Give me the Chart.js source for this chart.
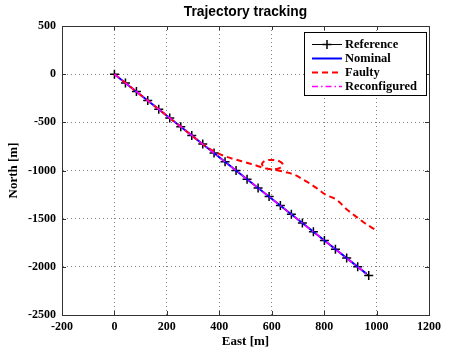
<!DOCTYPE html>
<html>
<head>
<meta charset="utf-8">
<script src="https://cdn.jsdelivr.net/npm/chart.js@4.4.0/dist/chart.umd.min.js"></script>
<style>
html,body{margin:0;padding:0;background:#fff;}
#wrap{width:474px;height:355px;}
</style>
</head>
<body>
<div id="wrap"><canvas id="c" width="474" height="355"></canvas></div>
<script>
const TITLE = 'Trajectory tracking';
const X_TITLE = 'East [m]';
const Y_TITLE = 'North [m]';
const seriesNames = ['Reference', 'Nominal', 'Faulty', 'Reconfigured'];

const xTickValues = [-200, 0, 200, 400, 600, 800, 1000, 1200];
const yTickValues = [500, 0, -500, -1000, -1500, -2000, -2500];

const refEast  = [0, 42, 84, 127, 169, 211, 253, 295, 337, 380, 422, 464, 506, 548, 590, 633, 675, 717, 759, 801, 843, 886, 928, 970];
const refNorth = [0, -91, -181, -274, -364, -455, -545, -636, -726, -819, -909, -1000, -1090, -1181, -1271, -1364, -1455, -1545, -1636, -1726, -1817, -1909, -2000, -2090];

const nomEast  = [0, 200, 400, 600, 800, 962];
const nomNorth = [0, -431, -862, -1293, -1724, -2073];

const faultEast  = [0, 100, 200, 300, 340, 380, 420, 460, 500, 543, 575, 605, 632, 643, 630, 602, 575, 563, 570, 590, 620, 650, 685, 730, 770, 805, 835, 850, 870, 890, 930, 950, 980, 1000];
const faultNorth = [0, -216, -431, -647, -733, -800, -850, -885, -915, -950, -978, -988, -972, -940, -905, -890, -900, -930, -962, -985, -997, -1015, -1042, -1110, -1180, -1250, -1285, -1308, -1360, -1412, -1495, -1537, -1590, -1620];

const recEast  = [0, 150, 300, 450, 600, 750, 900, 965];
const recNorth = [0, -323, -647, -970, -1293, -1617, -1940, -2080];

const pts = (xs, ys) => xs.map((v, i) => ({x: v, y: ys[i]}));

const styles = [
  {color: '#000000', width: 1, dash: [], marker: true},
  {color: '#0000ff', width: 2, dash: [], marker: false},
  {color: '#ff0000', width: 2, dash: [6, 4], marker: false},
  {color: '#ff00ff', width: 1.5, dash: [6, 3, 1.5, 3], marker: false}
];

const SERIF = '"Liberation Serif", "Times New Roman", serif';
const SANS = '"Liberation Sans", Arial, sans-serif';

const decor = {
  id: 'decor',
  afterDraw(chart) {
    const {ctx, chartArea: a, scales: {x, y}} = chart;
    ctx.save();
    ctx.strokeStyle = '#333';
    ctx.lineWidth = 1;
    ctx.setLineDash([]);
    ctx.strokeRect(Math.round(a.left) + 0.5, Math.round(a.top) + 0.5, Math.round(a.right - a.left), Math.round(a.bottom - a.top));
    ctx.beginPath();
    xTickValues.forEach(v => {
      const px = Math.round(x.getPixelForValue(v)) + 0.5;
      ctx.moveTo(px, a.bottom); ctx.lineTo(px, a.bottom - 4);
      ctx.moveTo(px, a.top); ctx.lineTo(px, a.top + 4);
    });
    yTickValues.forEach(v => {
      const py = Math.round(y.getPixelForValue(v)) + 0.5;
      ctx.moveTo(a.left, py); ctx.lineTo(a.left + 4, py);
      ctx.moveTo(a.right, py); ctx.lineTo(a.right - 4, py);
    });
    ctx.stroke();
    ctx.fillStyle = '#000';
    ctx.font = 'bold 13.8px ' + SANS;
    ctx.textAlign = 'center';
    ctx.textBaseline = 'middle';
    ctx.fillText(TITLE, (a.left + a.right) / 2, 12);
    ctx.font = 'bold 13px ' + SERIF;
    ctx.fillText(X_TITLE, (a.left + a.right) / 2, 342);
    ctx.save();
    ctx.translate(14, (a.top + a.bottom) / 2);
    ctx.rotate(-Math.PI / 2);
    ctx.fillText(Y_TITLE, 0, 0);
    ctx.restore();
    const lx = 304, ly = 32, lw = 122, lh = 63;
    ctx.fillStyle = '#fff';
    ctx.fillRect(lx, ly, lw, lh);
    ctx.strokeStyle = '#000';
    ctx.lineWidth = 1;
    ctx.strokeRect(lx + 0.5, ly + 0.5, lw, lh);
    ctx.font = 'bold 12.5px ' + SERIF;
    ctx.textAlign = 'left';
    seriesNames.forEach((name, i) => {
      const s = styles[i];
      const ry = ly + 12.5 + i * 14;
      ctx.strokeStyle = s.color;
      ctx.lineWidth = s.width;
      ctx.setLineDash(s.dash);
      ctx.beginPath();
      ctx.moveTo(312, ry); ctx.lineTo(342, ry);
      ctx.stroke();
      ctx.setLineDash([]);
      if (s.marker) {
        ctx.lineWidth = 1.5;
        ctx.beginPath();
        ctx.moveTo(327, ry - 4.5); ctx.lineTo(327, ry + 4.5);
        ctx.moveTo(322.5, ry); ctx.lineTo(331.5, ry);
        ctx.stroke();
      }
      ctx.fillStyle = '#000';
      ctx.fillText(name, 345, ry + 0.5);
    });
    ctx.restore();
  }
};

const gridCfg = {color: 'rgba(0,0,0,0.5)', lineWidth: 1, drawTicks: false};
const borderCfg = {display: true, color: '#333', width: 1, dash: [1, 3]};
const fmt = v => String(v);

new Chart(document.getElementById('c'), {
  type: 'scatter',
  data: {
    datasets: [
      {label: seriesNames[0], data: pts(refEast, refNorth), showLine: true, borderColor: styles[0].color, borderWidth: 1,
       pointStyle: 'cross', pointRadius: 4.5, pointBorderWidth: 1.5, pointBorderColor: '#000', pointBackgroundColor: '#000', order: 3},
      {label: seriesNames[1], data: pts(nomEast, nomNorth), showLine: true, borderColor: styles[1].color, borderWidth: 2, pointRadius: 0, order: 2},
      {label: seriesNames[2], data: pts(faultEast, faultNorth), showLine: true, borderColor: styles[2].color, borderWidth: 2, borderDash: styles[2].dash, pointRadius: 0, tension: 0.35, order: 1},
      {label: seriesNames[3], data: pts(recEast, recNorth), showLine: true, borderColor: styles[3].color, borderWidth: 1.5, borderDash: styles[3].dash, pointRadius: 0, order: 0}
    ]
  },
  options: {
    responsive: false,
    animation: false,
    devicePixelRatio: 1,
    layout: {padding: {top: 26, right: 45, left: 0, bottom: 0}},
    plugins: {legend: {display: false}, title: {display: false}, tooltip: {enabled: false}},
    scales: {
      x: {
        type: 'linear', min: -200, max: 1200,
        afterBuildTicks: s => { s.ticks = xTickValues.map(v => ({value: v})); },
        afterFit: s => { s.height = 40; },
        grid: gridCfg,
        border: borderCfg,
        ticks: {color: '#000', padding: 5, callback: fmt, font: {family: SERIF, size: 12, weight: 'bold'}, maxRotation: 0, autoSkip: false}
      },
      y: {
        type: 'linear', min: -2500, max: 500,
        afterBuildTicks: s => { s.ticks = yTickValues.slice().reverse().map(v => ({value: v})); },
        afterFit: s => { s.width = 62; },
        grid: gridCfg,
        border: borderCfg,
        ticks: {color: '#000', padding: 6, callback: fmt, font: {family: SERIF, size: 12, weight: 'bold'}, autoSkip: false}
      }
    }
  },
  plugins: [decor]
});
</script>
</body>
</html>
